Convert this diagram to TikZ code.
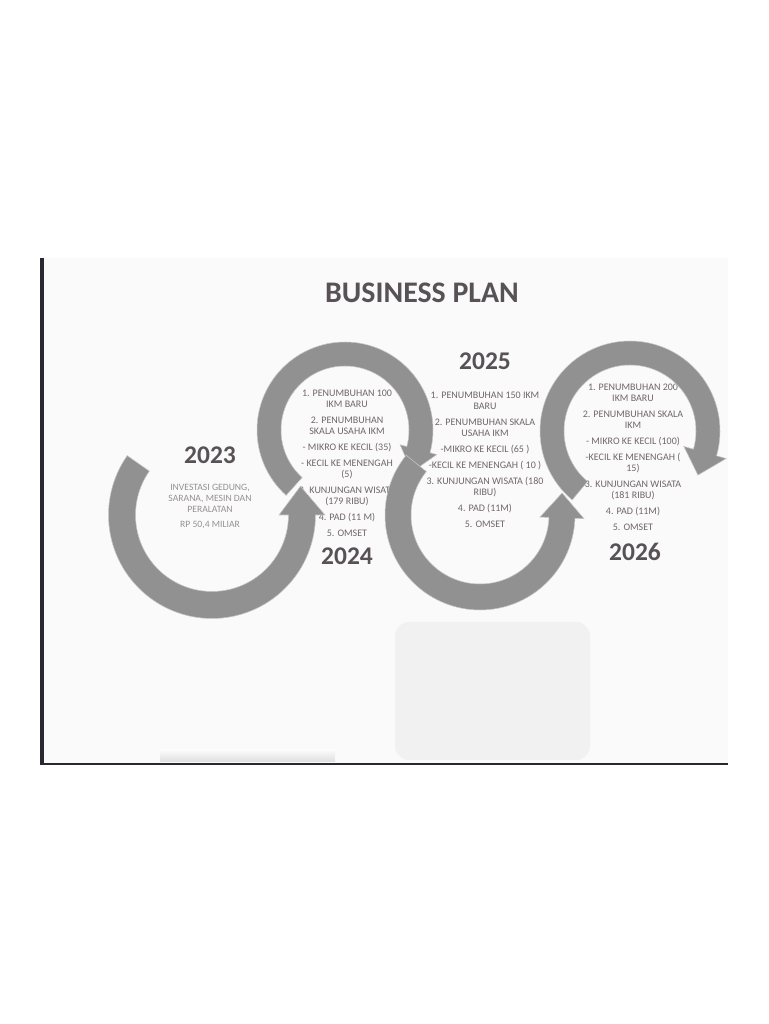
\documentclass[tikz,border=0pt]{standalone}
\usepackage{fontspec}
\setmainfont{Carlito}
\usetikzlibrary{positioning}
\definecolor{arrowgray}{RGB}{145,145,145}
\definecolor{seamgray}{RGB}{200,200,200}
\definecolor{titlegray}{RGB}{88,82,86}
\definecolor{listgray}{RGB}{112,102,108}
\definecolor{descgray}{RGB}{150,145,148}
\definecolor{slidewhite}{RGB}{250,250,250}
\definecolor{faintgray}{RGB}{241,241,241}
\definecolor{smudgegray}{RGB}{222,222,222}
\definecolor{framedark}{RGB}{40,40,48}

% ring arrow: cx, cy, mid radius, half width, tail angle, head angle, tip angle, head half width
\newcommand{\ringarrow}[8]{%
  \fill[arrowgray, draw=seamgray, line width=0.3pt]
    plot[domain=#5:#6, samples=80] ({#1+(#3+#4)*cos(\x)},{#2+(#3+#4)*sin(\x)})
    -- ({#1+(#3+#8)*cos(#6)},{#2+(#3+#8)*sin(#6)})
    -- ({#1+(#3+3)*cos(#7)},{#2+(#3+3)*sin(#7)})
    -- ({#1+(#3-#8)*cos(#6)},{#2+(#3-#8)*sin(#6)})
    -- plot[domain=#6:#5, samples=80] ({#1+(#3-#4)*cos(\x)},{#2+(#3-#4)*sin(\x)})
    -- cycle;}

\begin{document}
\begin{tikzpicture}[x=0.02cm, y=0.02cm,
  yearlabel/.style={font=\bfseries\fontsize{14.5}{16}\selectfont, text=titlegray, inner sep=0pt},
  planlist/.style={align=center, font=\fontsize{5.7}{6.26}\selectfont, text=listgray, inner sep=0pt, anchor=north}]
\useasboundingbox (0,0) rectangle (768,1024);
\fill[white] (0,0) rectangle (768,1024);

% slide and scan frame
\fill[slidewhite] (44,261) rectangle (728,766);
\fill[faintgray, rounded corners=8] (395,264) rectangle (590,402);
\shade[top color=slidewhite, bottom color=smudgegray] (160,262) rectangle (335,274);
\draw[framedark, line width=2.3pt] (42,766) -- (42,259);
\draw[framedark, line width=1.7pt] (41,260) -- (728,260);

% title and years
\node[font=\bfseries\fontsize{17}{20}\selectfont, text=titlegray] (title) at (422,731) {BUSINESS PLAN};
\node[yearlabel] (y2023) at (210,569) {2023};
\node[yearlabel] (y2024) at (347,468) {2024};
\node[yearlabel] (y2025) at (485,663) {2025};
\node[yearlabel] (y2026) at (635,472) {2026};

% plan texts
\node[planlist, text=descgray, font=\fontsize{5.5}{6.26}\selectfont] (plan2023) at (210,540)
  {INVESTASI GEDUNG,\\ SARANA, MESIN DAN\\ PERALATAN\\[2.3pt] RP 50,4 MILIAR};
\node[planlist] (plan2024) at (347,634.5)
  {1. PENUMBUHAN 100\\ IKM BARU\\[2.85pt]
   2. PENUMBUHAN\\ SKALA USAHA IKM\\[2.85pt]
   - MIKRO KE KECIL (35)\\[2.85pt]
   - KECIL KE MENENGAH\\ (5)\\[2.85pt]
   3. KUNJUNGAN WISATA\\ (179 RIBU)\\[2.85pt]
   4. PAD (11 M)\\[2.85pt]
   5. OMSET};
\node[planlist] (plan2025) at (485,632.5)
  {1. PENUMBUHAN 150 IKM\\ BARU\\[2.85pt]
   2. PENUMBUHAN SKALA\\ USAHA IKM\\[2.85pt]
   -MIKRO KE KECIL (65 )\\[2.85pt]
   -KECIL KE MENENGAH ( 10 )\\[2.85pt]
   3. KUNJUNGAN WISATA (180\\ RIBU)\\[2.85pt]
   4. PAD (11M)\\[2.85pt]
   5. OMSET};
\node[planlist] (plan2026) at (633,640.5)
  {1. PENUMBUHAN 200\\ IKM BARU\\[2.85pt]
   2. PENUMBUHAN SKALA\\ IKM\\[2.85pt]
   - MIKRO KE KECIL (100)\\[2.85pt]
   -KECIL KE MENENGAH (\\ 15)\\[2.85pt]
   3. KUNJUNGAN WISATA\\ (181 RIBU)\\[2.85pt]
   4. PAD (11M)\\[2.85pt]
   5. OMSET};

% circular arrows
\ringarrow{212}{509}{90}{13.5}{145}{360}{378}{23}
\ringarrow{345}{594}{76}{12}{228}{-15}{-32}{19}
\ringarrow{480}{509}{82}{13}{141}{358}{375}{22}
\ringarrow{630}{593}{78}{12}{230}{-16}{-33}{22}
\end{tikzpicture}
\end{document}
